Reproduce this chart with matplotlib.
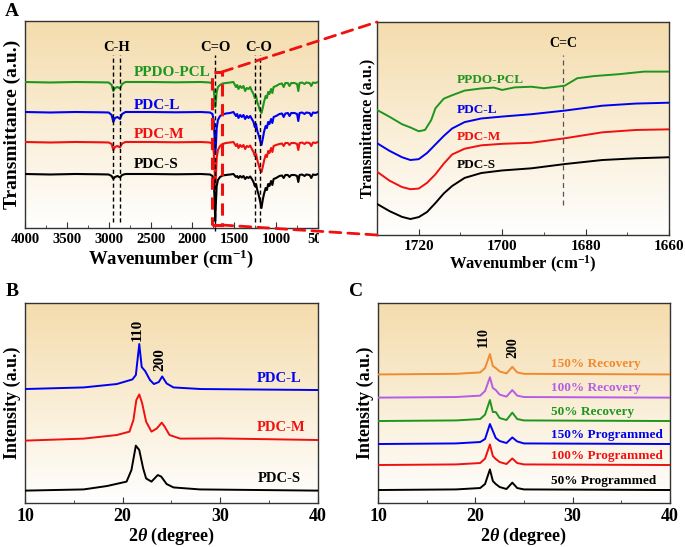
import matplotlib
matplotlib.use("Agg")
import matplotlib.pyplot as plt
import numpy as np
from matplotlib.patches import Rectangle, ConnectionPatch
from matplotlib.ticker import MultipleLocator, FixedLocator
from matplotlib.transforms import Bbox, TransformedBbox

plt.rcParams['font.family'] = ['Liberation Serif', 'DejaVu Serif']
plt.rcParams['font.weight'] = 'bold'
plt.rcParams['axes.labelweight'] = 'bold'
plt.rcParams['mathtext.fontset'] = 'custom'
plt.rcParams['mathtext.rm'] = 'Liberation Serif:bold'
plt.rcParams['mathtext.it'] = 'Liberation Serif:italic:bold'
plt.rcParams['mathtext.bf'] = 'Liberation Serif:bold'

GREEN = '#1E961E'
BLUE = '#0000F0'
RED = '#F01010'
BLACK = '#000000'
ORANGE = '#F08A30'
PURPLE = '#B45EE6'

# ---- panel A (left): full FTIR spectra, offset units ----
ftir_wn = [4000, 3700, 3400, 3100, 3000, 2965, 2945, 2925, 2895, 2865, 2840, 2800,
           2500, 2200, 1900, 1790, 1760, 1745, 1735, 1728, 1720, 1710, 1695, 1670,
           1640, 1600, 1550, 1510, 1480, 1465, 1450, 1430, 1410, 1390, 1370, 1350,
           1330, 1310, 1290, 1270, 1255, 1240, 1225, 1205, 1190, 1175, 1160, 1145,
           1125, 1110, 1095, 1080, 1060, 1045, 1030, 1000, 960, 930, 910, 890, 860,
           840, 820, 780, 750, 735, 720, 690, 660, 640, 600, 580, 560, 530, 500]
ftir_pdc_s = [54, 53.5, 54, 53.7, 53.5, 52, 49, 51, 52, 50.5, 53, 54,
              54, 53.7, 54, 53.5, 52, 46, 29, 7, 24, 42, 48, 51,
              52.5, 53, 53.5, 54, 51, 52, 50, 52, 50.5, 52, 49, 51,
              50, 51.5, 49, 46, 42, 44, 38, 32, 26, 20, 28, 34,
              40, 38, 44, 42, 47, 43, 49, 50, 52, 52.5, 50, 53, 53,
              51, 53, 53, 52, 46, 53, 53.5, 52, 53.5, 53, 50, 53.5, 53, 54]
ftir_pdc_m = [86, 85.5, 86, 85.7, 85.5, 84, 78, 81, 82, 80.5, 84.5, 86,
              86, 85.7, 86, 85.5, 84, 76, 60, 40, 50, 70, 78, 82,
              84, 85, 85.5, 86, 82, 84, 80, 83, 81, 83, 79, 82,
              81, 82.5, 79, 76, 72, 74, 68, 62, 58, 56, 61, 67,
              73, 71, 77, 75, 80, 76, 82, 83, 84, 84.5, 82, 85, 85,
              83, 85, 85, 84, 78, 85, 85.5, 84, 85.5, 85, 82, 85.5, 85, 86]
ftir_pdc_l = [116, 115.5, 116, 115.7, 115.5, 113, 106, 110, 111, 109, 114, 116,
              116, 115.7, 116, 115.5, 114, 106, 90, 74, 82, 100, 108, 112,
              113.5, 114.5, 115, 116, 112, 114, 110, 113, 111, 113, 109, 112,
              110, 112, 109, 106, 101, 104, 97, 92, 87, 83, 89, 96,
              102, 100, 106, 104, 109, 105, 111, 112, 114, 114.5, 111, 114.5, 115,
              112, 115, 115, 114, 107, 115, 115.5, 114, 115.5, 115, 112, 115.5, 115, 116]
ftir_ppdo = [146, 145.5, 146, 145.7, 145.5, 143, 137, 140, 141, 139.5, 144, 146,
             146, 145.7, 146, 145.5, 144, 138, 128, 121, 126, 136, 141, 143,
             144.5, 145, 145.5, 146, 141, 143, 139, 142, 140, 142, 137, 140,
             139, 141, 137, 134, 130, 132, 126, 121, 117, 115, 120, 126,
             132, 130, 136, 134, 139, 135, 141, 142, 144, 144.5, 141, 145, 145,
             142, 145, 145, 144, 137, 145, 145.5, 144, 145.5, 145, 142, 145.5, 145, 146]
ftir_ticks = [4000, 3500, 3000, 2500, 2000, 1500, 1000, 500]
ftir_tick_labels = ['4000', '3500', '3000', '2500', '2000', '1500', '1000', '500']

# ---- panel A (right): zoom 1730-1660 ----
zoom_wn_ppdo = [1730, 1727, 1724, 1722, 1720, 1718.5, 1717, 1716, 1714, 1712, 1709, 1705,
                1702, 1700, 1697, 1693, 1690, 1687, 1685, 1682, 1678, 1672, 1666, 1660]
zoom_ppdo = [58.7, 55.5, 52, 50.5, 48.7, 49.3, 54, 59.5, 64, 65.6, 67.8, 68.8,
             69.2, 68.1, 69.3, 69.6, 68.9, 69.6, 70.1, 73.6, 74.6, 75.5, 76.7, 76.7]
zoom_wn = [1730, 1727, 1724, 1722, 1720, 1718, 1716, 1714, 1712, 1709, 1705, 1700,
           1693, 1685, 1676, 1668, 1660]
zoom_pdc_l = [43.1, 39.5, 36.5, 35.2, 35.6, 38.5, 42.5, 46.5, 50, 53, 54.7, 55.6,
              56.7, 58.4, 60.7, 61.7, 62.1]
zoom_pdc_m = [29.7, 25.5, 22.5, 21.5, 21.8, 24.5, 28.5, 33.5, 37.8, 40.5, 42.1, 42.8,
              43.3, 45.4, 48.2, 49.3, 49.6]
zoom_pdc_s = [14.6, 11.2, 8.5, 7.5, 8.4, 10.8, 15, 19.5, 23, 26.8, 29.1, 30.3,
              31.3, 33.3, 35.2, 36, 36.5]

# ---- panel B: XRD of PDC samples ----
xrd_l_x = [10, 16, 19.4, 21.0, 21.35, 21.7, 21.95, 22.3, 22.8, 23.2, 23.7, 24.05, 24.5, 25.2, 28, 40]
xrd_l_y = [57.0, 57.8, 59.5, 61.8, 64, 79.5, 68, 66, 61.5, 59.5, 60.5, 63.3, 59.8, 57.8, 57.0, 56.5]
xrd_m_x = [10, 16, 19.4, 20.7, 21.1, 21.4, 21.7, 22.0, 22.4, 22.95, 23.5, 24.0, 24.3, 24.8, 25.9, 30, 40]
xrd_m_y = [31.2, 32.2, 34.0, 35.7, 41.5, 51.5, 54.3, 49.8, 40.7, 35.7, 37.3, 40.2, 38.2, 34.0, 32.2, 32.3, 31.5]
xrd_s_x = [10, 16, 18.4, 20.4, 20.9, 21.35, 21.7, 22.1, 22.4, 22.95, 23.6, 23.95, 24.5, 25.2, 27.9, 40]
xrd_s_y = [6.2, 6.8, 8.5, 10.7, 16.5, 28.7, 26.5, 17.3, 12.3, 10.7, 14.0, 13.2, 9.5, 7.8, 6.8, 6.2]

# ---- panel C: XRD programmed / recovery ----
xrd_c_x = [10, 18, 20.5, 21.0, 21.5, 21.8, 22.1, 22.5, 23.2, 23.8, 24.3, 25, 40]
rec150 = [64.3, 64.6, 65.3, 67.5, 74.5, 68.5, 67.5, 65.8, 64.8, 68.1, 65.3, 64.6, 64.3]
rec100 = [52.7, 53.0, 53.7, 56.0, 62.9, 57.5, 56.5, 54.2, 53.2, 56.5, 53.7, 53.0, 52.7]
rec50 = [41.0, 41.3, 42.0, 44.2, 51.5, 45.5, 45.5, 42.5, 41.5, 45.2, 42.0, 41.3, 41.0]
prog150 = [29.5, 29.8, 30.5, 32.0, 39.5, 36.0, 32.5, 31.0, 30.0, 32.8, 30.8, 29.8, 29.5]
prog100 = [19.0, 19.3, 20.0, 22.2, 29.3, 23.5, 22.0, 20.5, 19.5, 22.3, 20.0, 19.3, 19.0]
prog50 = [6.5, 6.8, 7.5, 9.5, 16.8, 11.0, 9.5, 8.0, 7.0, 10.2, 7.5, 6.8, 6.5]
c_names = ['150% Recovery', '100% Recovery', '50% Recovery',
           '150% Programmed', '100% Programmed', '50% Programmed']
c_label_y = [69.5, 57.3, 45.3, 34, 23.7, 11]


def add_gradient(ax):
    top = np.array([244, 220, 172]) / 255.0
    g = np.linspace(0, 1, 256).reshape(-1, 1, 1)
    img = top + (1 - top) * g
    ax.imshow(img, extent=[0, 1, 0, 1], transform=ax.transAxes,
              aspect='auto', zorder=0)


def style_axes(ax, ticksize):
    ax.set_yticks([])
    for s in ax.spines.values():
        s.set_color('#333333')
        s.set_linewidth(1.0)
    ax.tick_params(axis='x', which='both', direction='in', top=False,
                   labelsize=ticksize, colors='#333333', labelcolor='black')
    ax.tick_params(axis='x', which='major', length=4)
    ax.tick_params(axis='x', which='minor', length=2.5)


fig = plt.figure(figsize=(6.85, 5.47), dpi=100)

# ===== A left =====
axA = fig.add_axes([0.0365, 0.5832, 0.4277, 0.3784])
add_gradient(axA)
axA.plot(ftir_wn, ftir_ppdo, color=GREEN, lw=1.5, zorder=3)
axA.plot(ftir_wn, ftir_pdc_l, color=BLUE, lw=1.5, zorder=3)
axA.plot(ftir_wn, ftir_pdc_m, color=RED, lw=1.5, zorder=3)
axA.plot(ftir_wn, ftir_pdc_s, color=BLACK, lw=1.5, zorder=3)
axA.set_xlim(4000, 500)
axA.set_ylim(0, 207)
axA.xaxis.set_major_locator(FixedLocator(ftir_ticks))
axA.set_xticklabels(ftir_tick_labels)
axA.xaxis.set_minor_locator(MultipleLocator(250))
style_axes(axA, 10.5)
axA.set_xlabel('Wavenumber (cm$^{-1}$)', fontsize=13.5, labelpad=1)
axA.set_ylabel('Transmittance (a.u.)', fontsize=14, labelpad=3)

for x in [2945, 2860, 1250, 1190]:
    axA.plot([x, x], [6, 173], ls=(0, (3, 2)), color='black', lw=1.0, zorder=4)
axA.plot([1727, 1727], [-3, 173], ls=(0, (3, 2)), color='black', lw=1.0,
         zorder=4, clip_on=False)
axA.text(2900, 181, 'C-H', ha='center', va='center', fontsize=10.5)
axA.text(1730, 181, 'C=O', ha='center', va='center', fontsize=10.5)
axA.text(1205, 181, 'C-O', ha='center', va='center', fontsize=10.5)
axA.text(2700, 156, 'PPDO-PCL', color=GREEN, fontsize=11, va='center')
axA.text(2700, 122, 'PDC-L', color=BLUE, fontsize=11, va='center')
axA.text(2700, 93, 'PDC-M', color=RED, fontsize=11, va='center')
axA.text(2700, 63, 'PDC-S', color=BLACK, fontsize=11, va='center')
axA.add_patch(Rectangle((1770, 3), -120, 153, fill=False, edgecolor='#F01010',
                        lw=2.2, ls=(0, (4, 2.5)), zorder=5))

# clip the last tick label like the reference
last = axA.xaxis.get_major_ticks()[-1].label1
last.set_clip_box(TransformedBbox(Bbox([[0, 0], [319 / 685, 1]]), fig.transFigure))
last.set_clip_on(True)

# ===== A right =====
axZ = fig.add_axes([0.5504, 0.5704, 0.4263, 0.3894])
add_gradient(axZ)
axZ.plot(zoom_wn_ppdo, zoom_ppdo, color=GREEN, lw=1.4, zorder=3)
axZ.plot(zoom_wn, zoom_pdc_l, color=BLUE, lw=1.4, zorder=3)
axZ.plot(zoom_wn, zoom_pdc_m, color=RED, lw=1.4, zorder=3)
axZ.plot(zoom_wn, zoom_pdc_s, color=BLACK, lw=1.4, zorder=3)
axZ.set_xlim(1730, 1660)
axZ.set_ylim(0, 100)
axZ.xaxis.set_major_locator(MultipleLocator(20))
axZ.xaxis.set_minor_locator(MultipleLocator(10))
style_axes(axZ, 11)
axZ.set_xlabel('Wavenumber (cm$^{-1}$)', fontsize=12, labelpad=1)
axZ.set_ylabel('Transmittance (a.u.)', fontsize=11.5, labelpad=1)
axZ.plot([1685.3, 1685.3], [14, 84.5], ls=(0, (4, 3)), color='#555555', lw=0.9, zorder=4)
axZ.text(1685.3, 90, 'C=C', ha='center', va='center', fontsize=10)
axZ.text(1711, 72.8, 'PPDO-PCL', color=GREEN, fontsize=9.5, va='center')
axZ.text(1711, 58.7, 'PDC-L', color=BLUE, fontsize=9.5, va='center')
axZ.text(1711, 46.2, 'PDC-M', color=RED, fontsize=9.5, va='center')
axZ.text(1711, 32.9, 'PDC-S', color=BLACK, fontsize=9.5, va='center')

for ya, yb in [(156, 1), (3, 0)]:
    con = ConnectionPatch(xyA=(1650, ya), coordsA=axA.transData,
                          xyB=(0, yb), coordsB=axZ.transAxes,
                          color='#F01010', lw=2.0, ls=(0, (4, 2.5)), zorder=6)
    fig.add_artist(con)

# ===== B =====
axB = fig.add_axes([0.0365, 0.0804, 0.4277, 0.3656])
add_gradient(axB)
axB.plot(xrd_l_x, xrd_l_y, color=BLUE, lw=1.4, zorder=3)
axB.plot(xrd_m_x, xrd_m_y, color=RED, lw=1.4, zorder=3)
axB.plot(xrd_s_x, xrd_s_y, color=BLACK, lw=1.4, zorder=3)
axB.set_xlim(10, 40)
axB.set_ylim(0, 100)
axB.xaxis.set_major_locator(MultipleLocator(10))
axB.xaxis.set_minor_locator(MultipleLocator(5))
style_axes(axB, 13)
axB.set_xlabel(r'2$\theta$ (degree)', fontsize=13, labelpad=1)
axB.set_ylabel('Intensity (a.u.)', fontsize=13, labelpad=3)
axB.text(21.5, 86.5, '110', rotation=90, ha='center', va='center', fontsize=11)
axB.text(23.8, 71.5, '200', rotation=90, ha='center', va='center', fontsize=11)
axB.text(33.7, 62.5, 'PDC-L', color=BLUE, fontsize=10.5, va='center')
axB.text(33.7, 38, 'PDC-M', color=RED, fontsize=10.5, va='center')
axB.text(33.8, 12.5, 'PDC-S', color=BLACK, fontsize=10.5, va='center')

# ===== C =====
axC = fig.add_axes([0.5518, 0.0804, 0.4263, 0.3656])
add_gradient(axC)
c_series = [rec150, rec100, rec50, prog150, prog100, prog50]
c_colors = [ORANGE, PURPLE, GREEN, BLUE, RED, BLACK]
for ys, col, name, ly in zip(c_series, c_colors, c_names, c_label_y):
    axC.plot(xrd_c_x, ys, color=col, lw=1.4, zorder=3)
    axC.text(27.8, ly, name, color=col, fontsize=9.5, va='center')
axC.set_xlim(10, 40)
axC.set_ylim(0, 100)
axC.xaxis.set_major_locator(MultipleLocator(10))
axC.xaxis.set_minor_locator(MultipleLocator(5))
style_axes(axC, 13)
axC.set_xlabel(r'2$\theta$ (degree)', fontsize=13, labelpad=1)
axC.set_ylabel('Intensity (a.u.)', fontsize=13, labelpad=3)
axC.text(20.8, 83, '110', rotation=90, ha='center', va='center', fontsize=10)
axC.text(23.9, 77.5, '200', rotation=90, ha='center', va='center', fontsize=10)

fig.text(12 / 685, 1 - 12 / 547, 'A', fontsize=14, ha='center', va='center')
fig.text(12 / 685, 1 - 292 / 547, 'B', fontsize=14, ha='center', va='center')
fig.text(356 / 685, 1 - 292 / 547, 'C', fontsize=14, ha='center', va='center')

fig.savefig('out.png', dpi=100)
